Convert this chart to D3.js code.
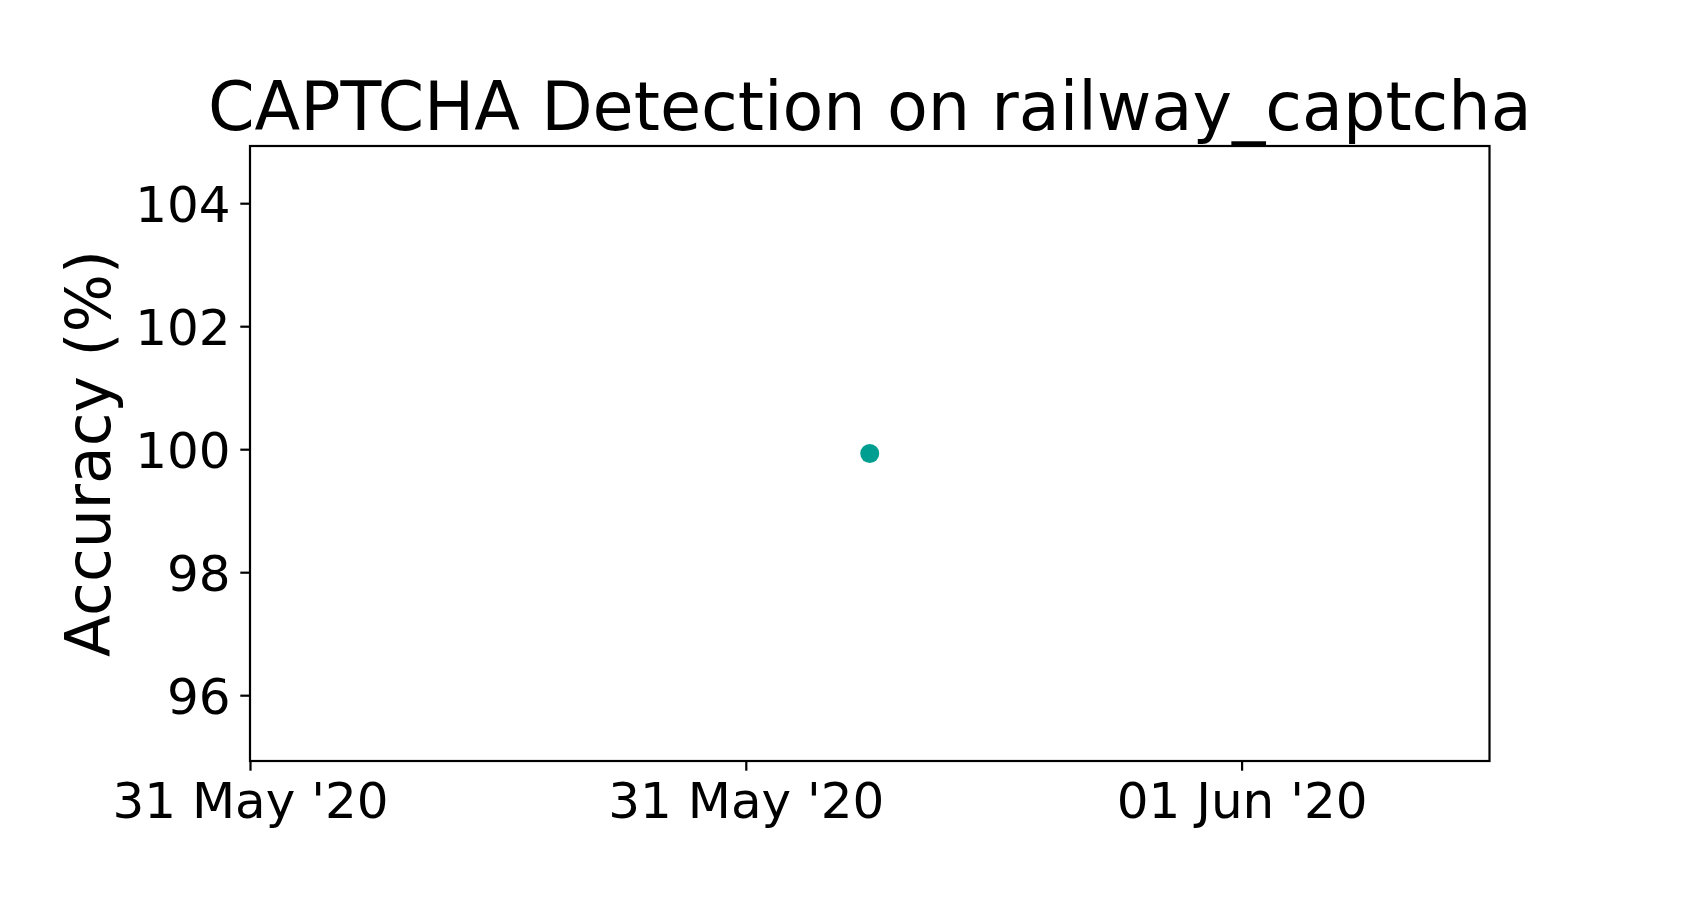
<!DOCTYPE html>
<html>
<head>
<meta charset="utf-8">
<script src="https://cdn.jsdelivr.net/npm/d3@7"></script>
<style>
  html, body { margin: 0; padding: 0; background: #fff; }
  svg { display: block; font-family: "DejaVu Sans", sans-serif; }
</style>
</head>
<body>
<svg id="chart" width="1700" height="900"></svg>
<script>
// ---- data ----
const titleText = "CAPTCHA Detection on railway_captcha";
const yLabel = "Accuracy (%)";
const dates = ["2020-05-31T15:00:00Z"];
const accuracy = [99.93];
const xDomain = ["2020-05-31T00:00:00Z", "2020-06-01T06:00:00Z"];
const xTickDates = ["2020-05-31T00:00:00Z", "2020-05-31T12:00:00Z", "2020-06-01T00:00:00Z"];
const yDomain = [94.93, 104.93];
const yTicks = [96, 98, 100, 102, 104];

// ---- layout ----
const W = 1700, H = 900;
const m = { left: 250, right: 1700 - 1489.5, top: 146, bottom: 900 - 761 };
const svg = d3.select("#chart");
const pw = W - m.left - m.right, ph = H - m.top - m.bottom;

const x = d3.scaleUtc().domain(xDomain.map(d => new Date(d))).range([0, pw]);
const y = d3.scaleLinear().domain(yDomain).range([ph, 0]);

const g = svg.append("g").attr("transform", `translate(${m.left},${m.top})`);

const fmt = d3.utcFormat("%d %b '%y");

const xAxis = g.append("g").attr("transform", `translate(0,${ph})`)
  .call(d3.axisBottom(x).tickValues(xTickDates.map(d => new Date(d))).tickFormat(fmt)
        .tickSize(9.7).tickPadding(9.7).tickSizeOuter(0));
const yAxis = g.append("g")
  .call(d3.axisLeft(y).tickValues(yTicks).tickFormat(d3.format("d"))
        .tickSize(9.7).tickPadding(9.7).tickSizeOuter(0));

[xAxis, yAxis].forEach(a => {
  a.select(".domain").remove();
  a.selectAll(".tick line").attr("stroke", "#000").attr("stroke-width", 2.2);
  a.selectAll(".tick text").attr("fill", "#000").style("font-size", "50px")
    .style("font-family", "'DejaVu Sans', sans-serif");
});
xAxis.selectAll(".tick text").attr("dy", "0.76em");
yAxis.selectAll(".tick text").attr("dy", "0.36em");

// points
g.selectAll("circle.pt").data(dates.map((d, i) => ({ d: new Date(d), v: accuracy[i] })))
  .enter().append("circle").attr("class", "pt")
  .attr("cx", d => x(d.d)).attr("cy", d => y(d.v)).attr("r", 9.5)
  .attr("fill", "#009e90");

// frame
g.append("rect").attr("x", 0).attr("y", 0).attr("width", pw).attr("height", ph)
  .attr("fill", "none").attr("stroke", "#000").attr("stroke-width", 2.2);

// title
svg.append("text").attr("x", m.left + pw / 2).attr("y", 130)
  .attr("text-anchor", "middle").style("font-size", "66.8px").attr("fill", "#000")
  .text(titleText);

// y label
svg.append("text")
  .attr("transform", `translate(110,${m.top + ph / 2}) rotate(-90)`)
  .attr("text-anchor", "middle").style("font-size", "61.5px").attr("fill", "#000")
  .text(yLabel);
</script>
</body>
</html>
